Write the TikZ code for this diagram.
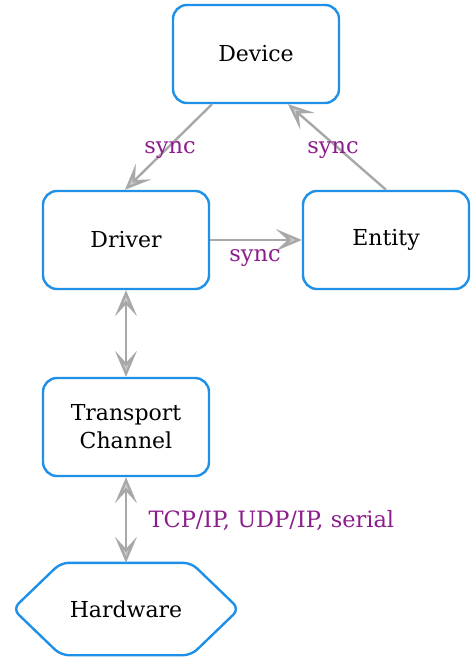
\documentclass[tikz,border=0pt]{standalone}
\usepackage{fontspec}
\setmainfont{DejaVu Serif}
\usetikzlibrary{arrows.meta,calc}
\definecolor{boxblue}{RGB}{30,144,232}
\definecolor{linkgray}{RGB}{168,168,168}
\definecolor{labelpurple}{RGB}{140,30,140}
\begin{document}
\begin{tikzpicture}[x=1pt, y=-1pt,
    block/.style={draw=boxblue, line width=2.4pt, rounded corners=14pt,
      minimum width=166pt, minimum height=98pt, align=center, font=\fontsize{22}{28}\selectfont},
    link/.style={draw=linkgray, line width=2.4pt,
      -{Stealth[length=26pt, width=22pt, inset=12pt, fill=linkgray!60]}},
    biglink/.style={link, {Stealth[length=26pt, width=22pt, inset=12pt, fill=linkgray!60]}-{Stealth[length=26pt, width=22pt, inset=12pt, fill=linkgray!60]}},
    tag/.style={text=labelpurple, font=\fontsize{22.5}{28}\selectfont}]
    \useasboundingbox (0,0) rectangle (474,660);
    % Blocks
    \node[block] (device) at (256,54) {Device};
    \node[block] (driver) at (126,240) {Driver};
    \node[block] (entity) at (386,240) {Entity};
    \node[block] (channel) at (126,427) {Transport\\Channel};
    % Hardware hexagon (outline drawn around the node)
    \node[minimum width=226pt, minimum height=92pt, font=\fontsize{22}{28}\selectfont] (hw) at (126,609) {Hardware};
    \draw[draw=boxblue, line width=2.4pt, rounded corners=8pt]
      (hw.west) -- ([xshift=48pt]hw.north west) -- ([xshift=-48pt]hw.north east)
      -- (hw.east) -- ([xshift=-48pt]hw.south east) -- ([xshift=48pt]hw.south west) -- cycle;
    % Sync links
    \draw[link] ([xshift=-44pt]device.south) -- ([xshift=-1pt]driver.north);
    \node[tag] (syncA) at (170,150) {sync};
    \draw[link] (entity.north) -- ([xshift=32pt]device.south);
    \node[tag] (syncB) at (333,150) {sync};
    \draw[link] (driver.east) -- (entity.west);
    \node[tag] (syncC) at (255,258) {sync};
    % Channel links
    \draw[biglink] (driver.south) -- (channel.north);
    \draw[biglink] (channel.south) -- (hw.north);
    \node[tag, anchor=west] (proto) at (145,520) {TCP/IP, UDP/IP, serial};
\end{tikzpicture}
\end{document}
